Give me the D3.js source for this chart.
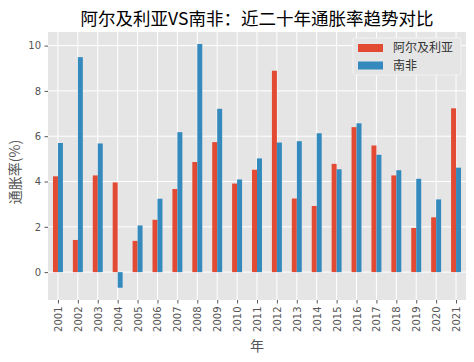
<!DOCTYPE html>
<html>
<head>
<meta charset="utf-8">
<script src="https://cdn.jsdelivr.net/npm/d3@7"></script>
<style>
  body { margin: 0; background: #fff; }
  svg { display: block; font-family: "DejaVu Sans", sans-serif; }
</style>
</head>
<body>
<svg id="chart" width="474" height="362"></svg>
<script>
// years and inflation rates (%)
const years = ["2001","2002","2003","2004","2005","2006","2007","2008","2009","2010","2011",
               "2012","2013","2014","2015","2016","2017","2018","2019","2020","2021"];
const algeria = [4.23, 1.42, 4.27, 3.96, 1.38, 2.31, 3.67, 4.86, 5.74, 3.91, 4.52,
                 8.89, 3.25, 2.92, 4.78, 6.40, 5.59, 4.27, 1.95, 2.42, 7.23];
const southAfrica = [5.70, 9.49, 5.68, -0.69, 2.06, 3.24, 6.18, 10.07, 7.21, 4.09, 5.02,
                     5.72, 5.78, 6.13, 4.54, 6.57, 5.18, 4.50, 4.12, 3.21, 4.61];
const seriesNames = ["阿尔及利亚", "南非"];
const colors = ["#E24A33", "#348ABD"];
const yTicks = [0, 2, 4, 6, 8, 10];

const svg = d3.select("#chart");
const margin = { top: 32, right: 8, bottom: 62, left: 48 };
const width = 474 - margin.left - margin.right;
const height = 362 - margin.top - margin.bottom;
const cjk = '"Noto Sans CJK SC", sans-serif';

const g = svg.append("g").attr("transform", `translate(${margin.left},${margin.top})`);

g.append("rect").attr("width", width).attr("height", height).attr("fill", "#E5E5E5");

// scales: x in index units (-0.5 .. n-0.5), like pandas bar plot
const x = d3.scaleLinear().domain([-0.5, years.length - 0.5]).range([0, width]);
const y = d3.scaleLinear().domain([-1.23, 10.6]).range([height, 0]);

// grid
g.selectAll(".vgrid").data(years).enter().append("line")
    .attr("x1", (d, i) => x(i)).attr("x2", (d, i) => x(i))
    .attr("y1", 0).attr("y2", height)
    .attr("stroke", "#fff").attr("stroke-width", 1);
g.selectAll(".hgrid").data(yTicks).enter().append("line")
    .attr("x1", 0).attr("x2", width)
    .attr("y1", d => y(d)).attr("y2", d => y(d))
    .attr("stroke", "#fff").attr("stroke-width", 1);

// bars
const barW = 0.25;
[algeria, southAfrica].forEach((vals, s) => {
    g.selectAll(".bar" + s).data(vals).enter().append("rect")
        .attr("x", (d, i) => x(i - barW + s * barW))
        .attr("width", x(barW) - x(0))
        .attr("y", d => y(Math.max(0, d)))
        .attr("height", d => Math.abs(y(d) - y(0)))
        .attr("fill", colors[s]);
});

// axes
const yAxis = g.append("g")
    .call(d3.axisLeft(y).tickValues(yTicks).tickSize(3.5).tickPadding(3.5));
const xAxis = g.append("g").attr("transform", `translate(0,${height})`)
    .call(d3.axisBottom(x).tickValues(d3.range(years.length)).tickFormat(i => years[i]).tickSize(3.5).tickPadding(3));
[xAxis, yAxis].forEach(a => {
    a.select(".domain").remove();
    a.selectAll("line").attr("stroke", "#555");
    a.selectAll("text").attr("fill", "#555").style("font-size", "10px")
        .style("font-family", '"DejaVu Sans", sans-serif');
});
xAxis.selectAll("text")
    .attr("transform", "rotate(-90)")
    .attr("text-anchor", "end")
    .attr("x", -6.5).attr("y", 0).attr("dy", "0.35em");

// labels
svg.append("text").attr("x", margin.left + width / 2).attr("y", 25)
    .attr("text-anchor", "middle").style("font-family", cjk).style("font-size", "17.5px")
    .attr("fill", "#000").text("阿尔及利亚VS南非：近二十年通胀率趋势对比");
svg.append("text").attr("x", margin.left + width / 2).attr("y", 351)
    .attr("text-anchor", "middle").style("font-family", cjk).style("font-size", "14px")
    .attr("fill", "#555").text("年");
svg.append("text")
    .attr("transform", `translate(20,${margin.top + height / 2 + 6}) rotate(-90)`)
    .attr("text-anchor", "middle").style("font-family", cjk).style("font-size", "14px")
    .attr("fill", "#555").text("通胀率(%)");

// legend
const lg = g.append("g").attr("transform", `translate(${width - 113},6)`);
lg.append("rect").attr("width", 108).attr("height", 37).attr("rx", 2)
    .attr("fill", "#E5E5E5").attr("stroke", "#f2f2f2").attr("stroke-width", 1);
seriesNames.forEach((name, i) => {
    lg.append("rect").attr("x", 5).attr("y", 6 + i * 17.5).attr("width", 25).attr("height", 8)
        .attr("fill", colors[i]);
    lg.append("text").attr("x", 40).attr("y", 10 + i * 17.5).attr("dy", "0.35em")
        .style("font-family", cjk).style("font-size", "12px").attr("fill", "#333").text(name);
});
</script>
</body>
</html>
